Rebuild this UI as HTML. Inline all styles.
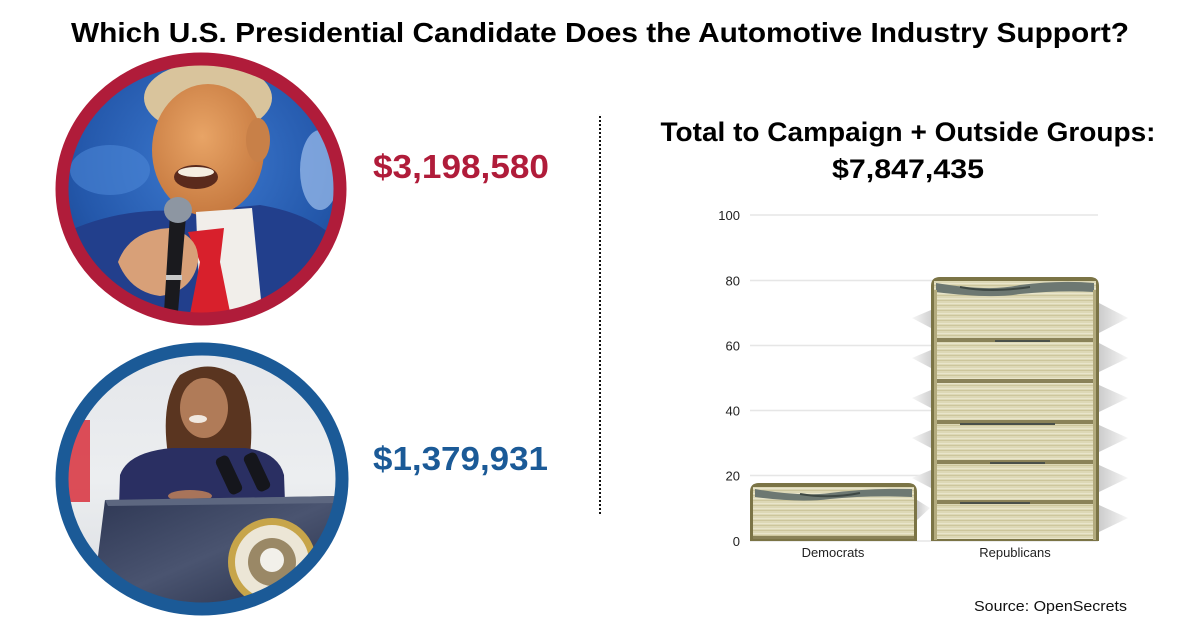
<!DOCTYPE html>
<html><head><meta charset="utf-8"><style>
html,body{margin:0;padding:0;background:#fff;}
svg{display:block;}
text{font-family:"Liberation Sans",Arial,sans-serif;}
</style></head><body>
<svg width="1200" height="630" viewBox="0 0 1200 630" xmlns="http://www.w3.org/2000/svg">
<defs>
  <clipPath id="c1"><ellipse cx="201" cy="189" rx="139" ry="130"/></clipPath>
  <clipPath id="c2"><ellipse cx="202" cy="479" rx="140" ry="130"/></clipPath>
  <radialGradient id="bgT" cx="0.5" cy="0.4" r="0.7">
    <stop offset="0" stop-color="#3d7ad0"/>
    <stop offset="0.6" stop-color="#2458ab"/>
    <stop offset="1" stop-color="#163e86"/>
  </radialGradient>
  <radialGradient id="face" cx="0.45" cy="0.4" r="0.6">
    <stop offset="0" stop-color="#e8a466"/>
    <stop offset="1" stop-color="#c77a40"/>
  </radialGradient>
  <linearGradient id="bgH" x1="0" y1="0" x2="0" y2="1">
    <stop offset="0" stop-color="#e4e6ea"/>
    <stop offset="0.5" stop-color="#eceef0"/>
    <stop offset="1" stop-color="#d8dbe0"/>
  </linearGradient>
  <linearGradient id="pod" x1="0" y1="0" x2="1" y2="1">
    <stop offset="0" stop-color="#2a3350"/>
    <stop offset="0.5" stop-color="#4a5470"/>
    <stop offset="1" stop-color="#1f2740"/>
  </linearGradient>
  <pattern id="stripes" width="8" height="5" patternUnits="userSpaceOnUse">
    <rect width="8" height="5" fill="#ddd8b6"/>
    <rect y="0" width="8" height="1" fill="#cdc69c"/>
    <rect y="3" width="8" height="1" fill="#e9e5cb"/>
  </pattern>
  <linearGradient id="shad" x1="0" y1="0" x2="1" y2="0">
    <stop offset="0" stop-color="#cccccc"/>
    <stop offset="1" stop-color="#f6f6f6"/>
  </linearGradient>
  <linearGradient id="shadL" x1="1" y1="0" x2="0" y2="0">
    <stop offset="0" stop-color="#d2d2d2"/>
    <stop offset="1" stop-color="#f6f6f6"/>
  </linearGradient>
</defs>

<!-- Title -->
<text x="600" y="42" text-anchor="middle" font-size="28" font-weight="bold" fill="#000" textLength="1058" lengthAdjust="spacingAndGlyphs">Which U.S. Presidential Candidate Does the Automotive Industry Support?</text>

<!-- Trump photo -->
<g clip-path="url(#c1)">
  <rect x="55" y="50" width="300" height="280" fill="url(#bgT)"/>
  <ellipse cx="110" cy="170" rx="40" ry="25" fill="#4b86d6" opacity="0.6"/>
  <ellipse cx="320" cy="170" rx="20" ry="40" fill="#9fc0ee" opacity="0.7"/>
  <!-- suit -->
  <path d="M60 235 Q120 205 190 212 L260 205 Q320 215 345 250 L345 330 L60 330 Z" fill="#223f8c"/>
  <!-- hair -->
  <ellipse cx="208" cy="98" rx="64" ry="36" fill="#d9c49c"/>
  <!-- face -->
  <ellipse cx="208" cy="150" rx="56" ry="66" fill="url(#face)"/>
  <ellipse cx="258" cy="140" rx="12" ry="22" fill="#c88048"/>
  <!-- mouth -->
  <ellipse cx="196" cy="177" rx="22" ry="12" fill="#5a2a1c"/>
  <ellipse cx="196" cy="172" rx="18" ry="5" fill="#f4ede0"/>
  <!-- shirt -->
  <path d="M196 212 L252 208 L262 310 L200 312 Z" fill="#f1eeea"/>
  <!-- tie -->
  <path d="M188 232 L224 228 L220 262 L230 312 L190 314 L200 262 Z" fill="#d8202c"/>
  <!-- hand -->
  <path d="M118 262 Q130 230 170 228 Q200 236 198 262 Q192 292 160 296 Q130 292 118 262 Z" fill="#d8a078"/>
  <!-- mic -->
  <path d="M170 214 L186 216 L178 312 L164 312 Z" fill="#1a1a1e"/>
  <ellipse cx="178" cy="210" rx="14" ry="13" fill="#8d96a2"/>
  <rect x="166" y="275" width="16" height="5" fill="#c8c8c8"/>
</g>
<ellipse cx="201" cy="189" rx="139" ry="130" fill="none" stroke="#b01c3a" stroke-width="13"/>

<!-- Harris photo -->
<g clip-path="url(#c2)">
  <rect x="55" y="340" width="300" height="280" fill="url(#bgH)"/>
  <rect x="66" y="420" width="24" height="82" fill="#d8303c" opacity="0.85"/>
  <!-- hair -->
  <path d="M168 455 Q160 400 180 375 Q208 358 235 375 Q256 400 250 455 Z" fill="#5a3520"/>
  <!-- suit -->
  <path d="M120 475 Q128 452 172 448 L245 448 Q278 452 284 475 L286 530 L118 540 Z" fill="#2a2f62"/>
  <!-- face -->
  <ellipse cx="204" cy="408" rx="24" ry="30" fill="#b07b58"/>
  <ellipse cx="198" cy="419" rx="9" ry="4" fill="#f0e8e0"/>
  <!-- mics -->
  <rect x="222" y="455" width="14" height="40" rx="5" fill="#15161c" transform="rotate(-25 229 475)"/>
  <rect x="250" y="452" width="14" height="40" rx="5" fill="#15161c" transform="rotate(-25 257 472)"/>
  <!-- hand -->
  <ellipse cx="190" cy="496" rx="22" ry="6" fill="#a8745a"/>
  <!-- podium -->
  <path d="M105 500 L338 496 L345 620 L60 620 L95 580 Z" fill="url(#pod)"/>
  <path d="M105 500 L338 496 L338 503 L108 506 Z" fill="#5d6780"/>
  <!-- seal -->
  <circle cx="272" cy="562" r="44" fill="#c7a54a"/>
  <circle cx="272" cy="562" r="37" fill="#ece6d6"/>
  <circle cx="272" cy="562" r="24" fill="#9a8866"/>
  <circle cx="272" cy="560" r="12" fill="#f2f0ea"/>
</g>
<ellipse cx="202" cy="479" rx="140" ry="130" fill="none" stroke="#1b5a97" stroke-width="13"/>

<!-- Amounts -->
<text x="373" y="178" font-size="33" font-weight="bold" fill="#b01c3a" textLength="176" lengthAdjust="spacingAndGlyphs">$3,198,580</text>
<text x="373" y="470" font-size="33" font-weight="bold" fill="#1b5a97" textLength="175" lengthAdjust="spacingAndGlyphs">$1,379,931</text>

<!-- Dotted divider -->
<line x1="600" y1="116" x2="600" y2="515" stroke="#111" stroke-width="2" stroke-dasharray="2 2"/>

<!-- Chart title -->
<text x="908" y="141" text-anchor="middle" font-size="27" font-weight="bold" fill="#000" textLength="495" lengthAdjust="spacingAndGlyphs">Total to Campaign + Outside Groups:</text>
<text x="908" y="178" text-anchor="middle" font-size="27" font-weight="bold" fill="#000" textLength="152" lengthAdjust="spacingAndGlyphs">$7,847,435</text>

<!-- Gridlines -->
<g stroke="#e6e6e6" stroke-width="1.5">
  <line x1="750" y1="215" x2="1098" y2="215"/>
  <line x1="750" y1="280.5" x2="1098" y2="280.5"/>
  <line x1="750" y1="345.5" x2="1098" y2="345.5"/>
  <line x1="750" y1="410.5" x2="1098" y2="410.5"/>
  <line x1="750" y1="475.5" x2="1098" y2="475.5"/>
  <line x1="750" y1="541" x2="1098" y2="541"/>
</g>
<g font-size="13" fill="#222" text-anchor="end">
  <text x="740" y="220">100</text>
  <text x="740" y="285.5">80</text>
  <text x="740" y="350.5">60</text>
  <text x="740" y="415.5">40</text>
  <text x="740" y="480.5">20</text>
  <text x="740" y="546">0</text>
</g>

<!-- Shadows -->
<g>
  <polygon points="1099,303 1128,318 1099,333" fill="url(#shad)"/>
  <polygon points="1099,343 1128,358 1099,372" fill="url(#shad)"/>
  <polygon points="1099,385 1128,398 1099,412" fill="url(#shad)"/>
  <polygon points="1099,425 1128,438 1099,452" fill="url(#shad)"/>
  <polygon points="1099,465 1128,478 1099,492" fill="url(#shad)"/>
  <polygon points="1099,505 1128,518 1099,532" fill="url(#shad)"/>
  <polygon points="931,310 912,318 931,328" fill="url(#shadL)"/>
  <polygon points="931,350 912,358 931,368" fill="url(#shadL)"/>
  <polygon points="931,390 912,398 931,408" fill="url(#shadL)"/>
  <polygon points="931,430 912,438 931,448" fill="url(#shadL)"/>
  <polygon points="931,470 912,478 931,488" fill="url(#shadL)"/>
  <polygon points="917,500 930,508 917,520" fill="url(#shad)"/>
</g>

<!-- Republican bar -->
<path d="M931 541 L931 286 Q931 277 940 277 L1090 277 Q1099 277 1099 286 L1099 541 Z" fill="#7b7446"/>
<rect x="934" y="281" width="162" height="258" fill="url(#stripes)"/>
<path d="M936 283 Q990 292 1020 285 Q1060 280 1094 283 L1094 292 Q1060 290 1020 294 Q990 299 936 292 Z" fill="#6d7872"/>
<path d="M960 287 Q990 293 1030 287" stroke="#3e4844" stroke-width="2" fill="none"/>
<g fill="#8a8258">
  <rect x="934" y="338" width="162" height="4"/>
  <rect x="934" y="379" width="162" height="4"/>
  <rect x="934" y="420" width="162" height="4"/>
  <rect x="934" y="460" width="162" height="4"/>
  <rect x="934" y="500" width="162" height="4"/>
</g>
<g stroke="#4a504a" stroke-width="2">
  <line x1="995" y1="341" x2="1050" y2="341"/>
  <line x1="960" y1="424" x2="1055" y2="424"/>
  <line x1="990" y1="463" x2="1045" y2="463"/>
  <line x1="960" y1="503" x2="1030" y2="503"/>
</g>
<rect x="934" y="290" width="3" height="250" fill="#b3ab7e"/>
<rect x="1093" y="290" width="3" height="250" fill="#b3ab7e"/>

<!-- Democrat bar -->
<path d="M750 541 L750 492 Q750 483 759 483 L908 483 Q917 483 917 492 L917 541 Z" fill="#7b7446"/>
<rect x="753" y="487" width="161" height="52" fill="url(#stripes)"/>
<path d="M755 489 Q800 497 830 493 Q870 488 912 489 L912 497 Q870 495 830 499 Q800 503 755 497 Z" fill="#6d7872"/>
<path d="M800 494 Q830 499 860 493" stroke="#3e4844" stroke-width="2" fill="none"/>
<rect x="753" y="536" width="161" height="3" fill="#8a8258"/>

<!-- X labels -->
<text x="833" y="557" text-anchor="middle" font-size="13" fill="#222">Democrats</text>
<text x="1015" y="557" text-anchor="middle" font-size="13" fill="#222">Republicans</text>

<!-- Source -->
<text x="1127" y="611" text-anchor="end" font-size="15" fill="#111" textLength="153" lengthAdjust="spacingAndGlyphs">Source: OpenSecrets</text>
</svg>
</body></html>
